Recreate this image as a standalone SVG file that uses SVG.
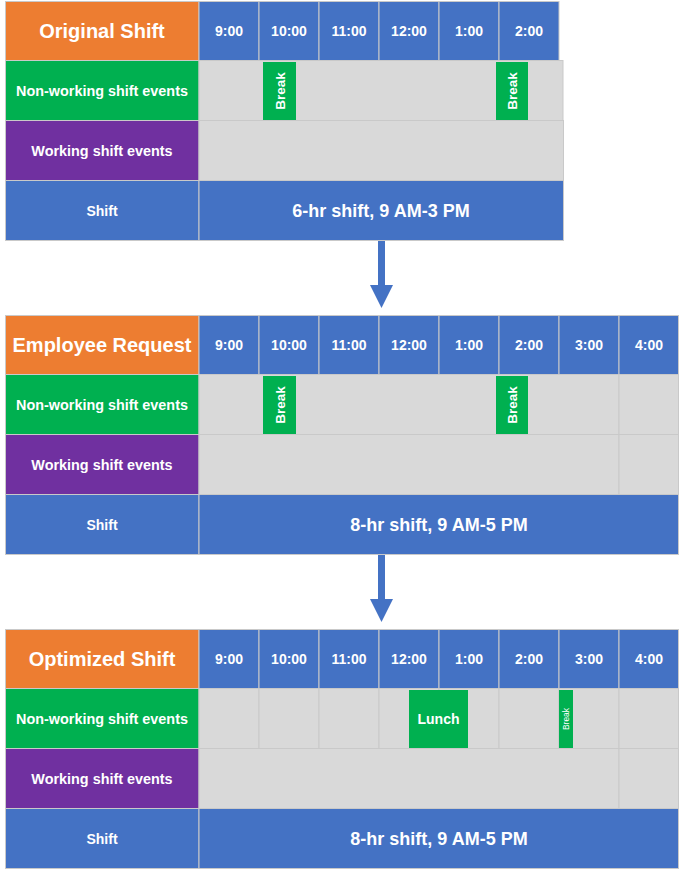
<svg xmlns="http://www.w3.org/2000/svg" width="679" height="870" viewBox="0 0 679 870">
<style>
.o{fill:#ED7D31;stroke:#C9C9C9;stroke-width:1}
.b{fill:#4472C4;stroke:#C9C9C9;stroke-width:1}
.g{fill:#00B050;stroke:#C9C9C9;stroke-width:1}
.p{fill:#7030A0;stroke:#C9C9C9;stroke-width:1}
.c{fill:#D9D9D9;stroke:#C9C9C9;stroke-width:1}
.ev{fill:#00B050;stroke:none}
text{font-family:"Liberation Sans",Arial,sans-serif;fill:#FFFFFF;text-anchor:middle;font-weight:bold}
.t{font-size:20px}
.h{font-size:14px}
.l{font-size:14.4px}
.s{font-size:18px}
.br{font-size:13.5px}
.sm{font-size:8.5px;font-weight:normal}
.conn{stroke:#4472C4;stroke-width:7;fill:none}
</style>
<defs>
<marker id="ah" markerUnits="userSpaceOnUse" markerWidth="23" markerHeight="23" viewBox="0 0 23 23" refX="0" refY="11.5" orient="auto">
<path d="M0,0 L23,11.5 L0,23 z" fill="#4472C4"/>
</marker>
</defs>

<!-- Section 1: Original Shift -->
<g id="original-title"><rect class="o" x="5.5" y="1.5" width="193.5" height="59"/><text class="t" x="102" y="38">Original Shift</text></g>
<g id="original-times">
<rect class="b" x="199" y="1.5" width="60" height="59"/><text class="h" x="229" y="36">9:00</text>
<rect class="b" x="259" y="1.5" width="60" height="59"/><text class="h" x="289" y="36">10:00</text>
<rect class="b" x="319" y="1.5" width="60" height="59"/><text class="h" x="349" y="36">11:00</text>
<rect class="b" x="379" y="1.5" width="60" height="59"/><text class="h" x="409" y="36">12:00</text>
<rect class="b" x="439" y="1.5" width="60" height="59"/><text class="h" x="469" y="36">1:00</text>
<rect class="b" x="499" y="1.5" width="60" height="59"/><text class="h" x="529" y="36">2:00</text>
</g>
<g id="original-nonworking"><rect class="g" x="5.5" y="60.5" width="193.5" height="60"/><text class="l" x="102" y="95.5">Non-working shift events</text>
<rect class="c" x="199" y="60.5" width="364" height="60"/>
<rect class="ev" x="263" y="62" width="33" height="58"/><text class="br" transform="translate(284.5,91) rotate(-90)">Break</text>
<rect class="ev" x="496" y="62" width="32" height="58"/><text class="br" transform="translate(517,91) rotate(-90)">Break</text>
</g>
<g id="original-working"><rect class="p" x="5.5" y="120.5" width="193.5" height="60"/><text class="l" x="102" y="155.5">Working shift events</text>
<rect class="c" x="199" y="120.5" width="364.5" height="60"/></g>
<g id="original-shift"><rect class="b" x="5.5" y="180.5" width="193.5" height="60"/><text class="h" x="102" y="215.5">Shift</text>
<rect class="b" x="199" y="180.5" width="364.5" height="60"/><text class="s" x="381" y="217">6-hr shift, 9 AM-3 PM</text></g>

<!-- Section 2: Employee Request -->
<g id="request-title"><rect class="o" x="5.5" y="315.5" width="193.5" height="59"/><text class="t" x="102" y="352">Employee Request</text></g>
<g id="request-times">
<rect class="b" x="199" y="315.5" width="60" height="59"/><text class="h" x="229" y="350">9:00</text>
<rect class="b" x="259" y="315.5" width="60" height="59"/><text class="h" x="289" y="350">10:00</text>
<rect class="b" x="319" y="315.5" width="60" height="59"/><text class="h" x="349" y="350">11:00</text>
<rect class="b" x="379" y="315.5" width="60" height="59"/><text class="h" x="409" y="350">12:00</text>
<rect class="b" x="439" y="315.5" width="60" height="59"/><text class="h" x="469" y="350">1:00</text>
<rect class="b" x="499" y="315.5" width="60" height="59"/><text class="h" x="529" y="350">2:00</text>
<rect class="b" x="559" y="315.5" width="60" height="59"/><text class="h" x="589" y="350">3:00</text>
<rect class="b" x="619" y="315.5" width="59.5" height="59"/><text class="h" x="649" y="350">4:00</text>
</g>
<g id="request-nonworking"><rect class="g" x="5.5" y="374.5" width="193.5" height="60"/><text class="l" x="102" y="409.5">Non-working shift events</text>
<rect class="c" x="199" y="374.5" width="420" height="60"/><rect class="c" x="619" y="374.5" width="59.5" height="60"/>
<rect class="ev" x="263" y="376" width="33" height="58"/><text class="br" transform="translate(284.5,405) rotate(-90)">Break</text>
<rect class="ev" x="496" y="376" width="32" height="58"/><text class="br" transform="translate(517,405) rotate(-90)">Break</text>
</g>
<g id="request-working"><rect class="p" x="5.5" y="434.5" width="193.5" height="60"/><text class="l" x="102" y="469.5">Working shift events</text>
<rect class="c" x="199" y="434.5" width="420" height="60"/><rect class="c" x="619" y="434.5" width="59.5" height="60"/></g>
<g id="request-shift"><rect class="b" x="5.5" y="494.5" width="193.5" height="60"/><text class="h" x="102" y="529.5">Shift</text>
<rect class="b" x="199" y="494.5" width="479.5" height="60"/><text class="s" x="439" y="531">8-hr shift, 9 AM-5 PM</text></g>

<!-- Section 3: Optimized Shift -->
<g id="optimized-title"><rect class="o" x="5.5" y="629.5" width="193.5" height="59"/><text class="t" x="102" y="666">Optimized Shift</text></g>
<g id="optimized-times">
<rect class="b" x="199" y="629.5" width="60" height="59"/><text class="h" x="229" y="664">9:00</text>
<rect class="b" x="259" y="629.5" width="60" height="59"/><text class="h" x="289" y="664">10:00</text>
<rect class="b" x="319" y="629.5" width="60" height="59"/><text class="h" x="349" y="664">11:00</text>
<rect class="b" x="379" y="629.5" width="60" height="59"/><text class="h" x="409" y="664">12:00</text>
<rect class="b" x="439" y="629.5" width="60" height="59"/><text class="h" x="469" y="664">1:00</text>
<rect class="b" x="499" y="629.5" width="60" height="59"/><text class="h" x="529" y="664">2:00</text>
<rect class="b" x="559" y="629.5" width="60" height="59"/><text class="h" x="589" y="664">3:00</text>
<rect class="b" x="619" y="629.5" width="59.5" height="59"/><text class="h" x="649" y="664">4:00</text>
</g>
<g id="optimized-nonworking"><rect class="g" x="5.5" y="688.5" width="193.5" height="60"/><text class="l" x="102" y="723.5">Non-working shift events</text>
<rect class="c" x="199" y="688.5" width="60" height="60"/>
<rect class="c" x="259" y="688.5" width="60" height="60"/>
<rect class="c" x="319" y="688.5" width="60" height="60"/>
<rect class="c" x="379" y="688.5" width="60" height="60"/>
<rect class="c" x="439" y="688.5" width="60" height="60"/>
<rect class="c" x="499" y="688.5" width="60" height="60"/>
<rect class="c" x="559" y="688.5" width="60" height="60"/>
<rect class="c" x="619" y="688.5" width="59.5" height="60"/>
<rect class="ev" x="409" y="690" width="59" height="58"/><text class="h" x="438.5" y="723.5">Lunch</text>
<rect class="ev" x="559" y="690" width="14" height="58"/><text class="sm" transform="translate(569,719) rotate(-90)">Break</text>
</g>
<g id="optimized-working"><rect class="p" x="5.5" y="748.5" width="193.5" height="60"/><text class="l" x="102" y="783.5">Working shift events</text>
<rect class="c" x="199" y="748.5" width="420" height="60"/><rect class="c" x="619" y="748.5" width="59.5" height="60"/></g>
<g id="optimized-shift"><rect class="b" x="5.5" y="808.5" width="193.5" height="60"/><text class="h" x="102" y="843.5">Shift</text>
<rect class="b" x="199" y="808.5" width="479.5" height="60"/><text class="s" x="439" y="845">8-hr shift, 9 AM-5 PM</text></g>

<!-- Connectors -->
<g id="connectors">
<line class="conn" x1="381.5" y1="241" x2="381.5" y2="285" marker-end="url(#ah)"/>
<line class="conn" x1="381.5" y1="555" x2="381.5" y2="599" marker-end="url(#ah)"/>
</g>
</svg>
